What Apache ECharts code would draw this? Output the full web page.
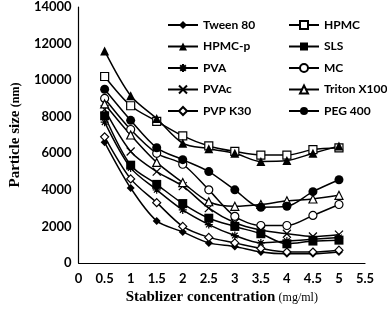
<!DOCTYPE html>
<html>
<head>
<meta charset="utf-8">
<script src="https://cdn.jsdelivr.net/npm/echarts@6/dist/echarts.min.js"></script>
<style>html,body{margin:0;padding:0;background:#fff}#c{width:387px;height:310px}</style>
</head>
<body>
<div id="c"></div>
<script>
const concentrations = [0.5, 1, 1.5, 2, 2.5, 3, 3.5, 4, 4.5, 5];
const tween80 = [6600, 4100, 2300, 1700, 1100, 900, 600, 500, 500, 600];
const hpmc = [10200, 8600, 7750, 6950, 6400, 6100, 5900, 5900, 6200, 6300];
const hpmcP = [11600, 9150, 7900, 6550, 6250, 6000, 5550, 5600, 6000, 6400];
const sls = [8050, 5350, 4300, 3250, 2450, 2000, 1600, 1050, 1200, 1250];
const pva = [7700, 5200, 4000, 2900, 2100, 1500, 1100, 1200, 1300, 1400];
const mc = [9000, 7300, 6000, 5400, 4000, 2550, 2050, 2050, 2600, 3200];
const pvac = [8400, 6100, 5000, 4200, 3000, 2200, 1800, 1600, 1450, 1550];
const tritonX100 = [8700, 7000, 5500, 4400, 3350, 3100, 3200, 3400, 3500, 3700];
const pvpK30 = [6900, 4600, 3300, 2000, 1400, 1100, 800, 600, 600, 700];
const peg400 = [9500, 7800, 6300, 5650, 5000, 4000, 3050, 3100, 3900, 4550];
const xTicks = [0, 0.5, 1, 1.5, 2, 2.5, 3, 3.5, 4, 4.5, 5, 5.5];
const yTicks = [0, 2000, 4000, 6000, 8000, 10000, 12000, 14000];

const ASTER = 'path://M5,0L5,10M0,5L10,5M1.5,1.5L8.5,8.5M8.5,1.5L1.5,8.5';
const CROSS = 'path://M0,0L10,10M10,0L0,10';

const seriesDefs = [
  {name: 'Tween 80', data: tween80, symbol: 'diamond', filled: true, size: 8},
  {name: 'HPMC', data: hpmc, symbol: 'rect', filled: false, size: 8},
  {name: 'HPMC-p', data: hpmcP, symbol: 'triangle', filled: true, size: 9},
  {name: 'SLS', data: sls, symbol: 'rect', filled: true, size: 9},
  {name: 'PVA', data: pva, symbol: ASTER, filled: 'line', size: 8},
  {name: 'MC', data: mc, symbol: 'circle', filled: false, size: 8},
  {name: 'PVAc', data: pvac, symbol: CROSS, filled: 'line', size: 8},
  {name: 'Triton X100', data: tritonX100, symbol: 'triangle', filled: false, size: 8},
  {name: 'PVP K30', data: pvpK30, symbol: 'diamond', filled: false, size: 8},
  {name: 'PEG 400', data: peg400, symbol: 'circle', filled: true, size: 9}
];

const series = seriesDefs.map(d => ({
  name: d.name,
  type: 'line',
  smooth: 0.3,
  symbol: d.symbol,
  symbolSize: d.size,
  showAllSymbol: true,
  data: concentrations.map((x, i) => [x, d.data[i]]),
  lineStyle: {color: '#000', width: 1.5},
  itemStyle: {
    color: d.filled === false ? '#fff' : '#000',
    borderColor: '#000',
    borderWidth: d.filled === true ? 0 : 1.2
  },
  emphasis: {disabled: true}
}));

const legendText = {color: '#000', fontFamily: 'Lato', fontWeight: 'bold', fontSize: 12};
const chart = echarts.init(document.getElementById('c'), null, {renderer: 'canvas'});
chart.setOption({
  animation: false,
  backgroundColor: '#fff',
  grid: {left: 67, right: 22, top: 7, bottom: 42.5, containLabel: false},
  legend: [
    {data: ['Tween 80', 'HPMC-p', 'PVA', 'PVAc', 'PVP K30'], orient: 'vertical', left: 162, top: 14,
     itemWidth: 30, itemHeight: 10, itemGap: 9.5, textStyle: legendText, selectedMode: false},
    {data: ['HPMC', 'SLS', 'MC', 'Triton X100', 'PEG 400'], orient: 'vertical', left: 283, top: 14,
     itemWidth: 30, itemHeight: 10, itemGap: 9.5, textStyle: legendText, selectedMode: false}
  ],
  xAxis: {
    type: 'value', min: 0, max: 5.5, interval: 0.5,
    name: '{a|Stablizer concentration} {b|(mg/ml)}',
    nameLocation: 'middle', nameGap: 27,
    nameTextStyle: {rich: {
      a: {fontFamily: 'Liberation Serif', fontWeight: 'bold', fontSize: 15, color: '#000'},
      b: {fontFamily: 'Liberation Serif', fontSize: 12, color: '#000'}
    }},
    axisLine: {lineStyle: {color: '#000', width: 1.2}},
    axisTick: {show: false},
    splitLine: {show: false},
    axisLabel: {color: '#000', fontFamily: 'Lato', fontWeight: 'bold', fontSize: 13, margin: 9,
      formatter: v => xTicks.includes(+v.toFixed(1)) ? String(+v.toFixed(1)) : ''}
  },
  yAxis: {
    type: 'value', min: 0, max: 14000, interval: 2000,
    name: '{a|Particle size} {b|(nm)}',
    nameLocation: 'middle', nameGap: 43, nameRotate: 90,
    nameTextStyle: {rich: {
      a: {fontFamily: 'Liberation Serif', fontWeight: 'bold', fontSize: 15, color: '#000'},
      b: {fontFamily: 'Liberation Serif', fontWeight: 'bold', fontSize: 12, color: '#000'}
    }},
    axisLine: {show: true, lineStyle: {color: '#000', width: 1.2}},
    axisTick: {show: false},
    splitLine: {show: false},
    axisLabel: {color: '#000', fontFamily: 'Lato', fontWeight: 'bold', fontSize: 13, margin: 7,
      formatter: v => yTicks.includes(v) ? String(v) : ''}
  },
  series: series
});
</script>
</body>
</html>
